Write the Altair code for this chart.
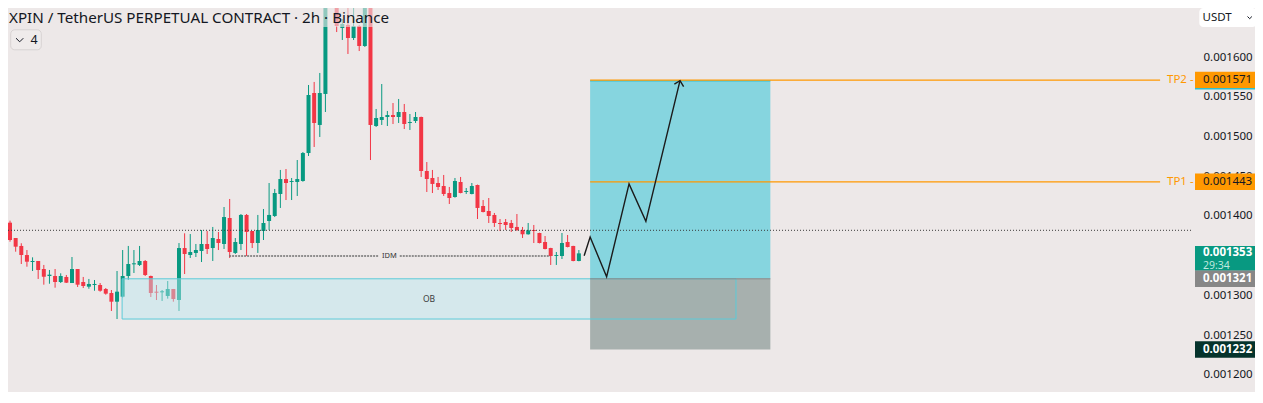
import altair as alt
import pandas as pd

# ---------------- data (prices, in 1e-6 USDT) ----------------
bars = list(range(1, 103))
opens = [1391.6, 1372.3, 1362.3, 1350.9, 1342.1, 1343.4, 1333.3, 1324.5, 1324.5, 1317.0,
         1323.3, 1315.7, 1333.3, 1317.0, 1311.1, 1313.2, 1313.2, 1308.2, 1303.1, 1292.2,
         1298.5, 1324.5, 1339.2, 1338.4, 1343.4, 1324.5, 1304.8, 1304.0, 1299.4, 1308.2,
         1294.3, 1359.7, 1350.9, 1353.5, 1356.0, 1364.8, 1359.7, 1371.1, 1364.8, 1397.5,
         1353.5, 1364.8, 1401.3, 1381.1, 1366.0, 1381.1, 1393.7, 1400.0, 1427.7, 1446.5,
         1442.8, 1442.8, 1444.0, 1479.2, 1554.7, 1514.5, 1553.5, 1676.7, 1676.7, 1636.5,
         1640.3, 1623.9, 1639.0, 1613.8, 1667.9, 1513.2, 1520.8, 1524.5, 1527.0, 1524.5,
         1530.8, 1517.0, 1519.5, 1524.5, 1456.6, 1447.8, 1441.5, 1437.7, 1428.9, 1423.9,
         1442.8, 1430.2, 1427.7, 1439.0, 1412.6, 1406.3, 1401.3, 1391.2, 1392.4, 1391.2,
         1386.2, 1382.4, 1377.0, 1382.4, 1378.6, 1367.3, 1359.7, 1349.7, 1349.7, 1367.3,
         1362.3, 1343.4]
highs = [1394.1, 1372.3, 1365.7, 1357.2, 1348.0, 1343.4, 1338.4, 1332.1, 1333.3, 1327.9,
         1325.8, 1348.4, 1333.3, 1323.3, 1320.8, 1319.5, 1315.7, 1309.4, 1306.9, 1330.8,
         1357.2, 1362.3, 1357.2, 1362.3, 1344.6, 1325.0, 1313.2, 1306.9, 1318.2, 1308.2,
         1366.0, 1378.2, 1377.3, 1364.8, 1382.4, 1381.1, 1386.2, 1379.9, 1411.3, 1421.4,
         1372.3, 1402.5, 1402.5, 1381.1, 1401.3, 1408.8, 1441.5, 1434.0, 1457.9, 1459.1,
         1447.8, 1470.4, 1480.5, 1564.8, 1568.6, 1579.9, 1681.8, 1694.3, 1684.3, 1647.8,
         1662.9, 1673.0, 1640.3, 1678.0, 1674.2, 1534.6, 1566.0, 1532.1, 1542.1, 1547.2,
         1540.9, 1528.3, 1530.8, 1525.0, 1467.9, 1457.9, 1449.1, 1451.6, 1436.5, 1447.8,
         1449.1, 1435.2, 1441.5, 1439.5, 1420.1, 1422.6, 1403.8, 1396.2, 1396.2, 1395.0,
         1402.5, 1386.2, 1391.2, 1388.7, 1379.0, 1374.8, 1360.0, 1354.7, 1378.6, 1376.1,
         1362.5, 1357.2]
lows = [1367.7, 1355.1, 1339.6, 1336.2, 1330.8, 1320.8, 1313.6, 1314.8, 1309.8, 1315.7,
        1315.7, 1315.7, 1310.7, 1309.4, 1308.5, 1306.0, 1304.8, 1301.0, 1280.5, 1270.4,
        1297.5, 1319.5, 1328.3, 1337.1, 1324.5, 1298.1, 1294.3, 1293.1, 1296.0, 1292.2,
        1280.5, 1327.0, 1347.2, 1348.4, 1342.1, 1352.2, 1343.4, 1357.2, 1358.5, 1347.2,
        1352.2, 1357.2, 1349.7, 1359.7, 1353.5, 1369.8, 1382.4, 1398.7, 1410.1, 1420.1,
        1420.1, 1425.2, 1443.1, 1475.5, 1486.8, 1499.4, 1530.8, 1667.5, 1631.4, 1621.4,
        1603.8, 1621.4, 1607.5, 1612.6, 1470.4, 1512.0, 1514.5, 1513.2, 1515.7, 1517.0,
        1509.4, 1508.2, 1517.0, 1449.1, 1430.2, 1428.9, 1432.7, 1425.2, 1415.1, 1423.0,
        1428.5, 1427.7, 1427.2, 1396.2, 1404.5, 1391.2, 1386.2, 1381.1, 1382.4, 1379.9,
        1381.1, 1372.3, 1376.5, 1366.0, 1365.5, 1358.0, 1338.4, 1338.4, 1345.9, 1360.5,
        1343.0, 1343.0]
closes = [1369.8, 1361.4, 1350.9, 1342.5, 1343.4, 1332.1, 1323.6, 1326.2, 1317.0, 1324.5,
          1316.1, 1333.3, 1313.6, 1311.9, 1314.5, 1314.5, 1306.0, 1302.3, 1292.2, 1304.8,
          1324.5, 1339.6, 1340.5, 1343.4, 1325.8, 1303.1, 1303.5, 1305.3, 1308.2, 1295.6,
          1359.7, 1352.2, 1354.7, 1357.2, 1364.8, 1358.5, 1372.3, 1366.0, 1398.7, 1354.7,
          1367.3, 1401.3, 1379.9, 1366.0, 1382.4, 1391.2, 1401.3, 1428.9, 1446.5, 1441.5,
          1444.0, 1446.5, 1479.2, 1552.2, 1517.0, 1554.7, 1674.2, 1686.8, 1639.0, 1641.5,
          1623.9, 1639.0, 1613.8, 1666.7, 1514.5, 1523.3, 1524.5, 1527.0, 1524.5, 1530.8,
          1515.7, 1518.2, 1524.5, 1456.6, 1446.5, 1440.3, 1436.5, 1427.7, 1422.6, 1444.0,
          1428.9, 1431.4, 1437.7, 1410.1, 1405.0, 1400.0, 1391.2, 1389.9, 1388.7, 1384.9,
          1382.4, 1377.0, 1382.0, 1381.1, 1366.0, 1358.5, 1349.7, 1350.9, 1366.0, 1361.0,
          1343.4, 1353.0]

# 0.001350 sits fully under the live-price badge in the reference, so it is not listed
tick_values = [0.0012, 0.00125, 0.0013, 0.0014, 0.00145, 0.0015, 0.00155, 0.0016]

entry_price = 0.001321
tp1_price = 0.001443
tp2_price = 0.001571
sl_price = 0.001232
last_price = 0.001353
dotted_price = 0.001382
idm_price = 0.0013497
ob_bars = [20.9, 129.9]
ob_prices = [0.0012704, 0.001321]
pos_bars = [104.0, 136.0]
tp_line_end = 205.2
idm_bars = [39.9, 66.5, 70.2, 96.9]  # line, gap for the label, line
path_bars = [102.94, 104.0, 106.93, 110.91, 113.90, 119.96]
path_prices = [0.0013501, 0.0013736, 0.0013236, 0.0014403, 0.0013933, 0.0015702]
head_bars = [118.96, 119.96, 120.60]
head_prices = [0.0015660, 0.0015702, 0.0015626]

badge_prices = [tp2_price, tp1_price, entry_price, sl_price]
badge_labels = ["0.001571", "0.001443", "0.001321", "0.001232"]
badge_fills = ["#ff9800", "#ff9800", "#878787", "#05332c"]
badge_text_colors = ["#131722", "#131722", "#ffffff", "#ffffff"]

title_text = "XPIN / TetherUS PERPETUAL CONTRACT · 2h · Binance"

# ---------------- styling ----------------
BG = "#ede8e8"
GREEN = "#089981"
RED = "#f23645"
ORANGE = "#ff9800"
FONT = "Noto Sans"
W, H = 1185, 384

U = 1e-6
df = pd.DataFrame({
    "bar": bars,
    "open": [v * U for v in opens],
    "high": [v * U for v in highs],
    "low": [v * U for v in lows],
    "close": [v * U for v in closes],
})
df["dir"] = ["up" if c >= o else "down" for o, c in zip(df["open"], df["close"])]

xs = alt.Scale(domain=[1.528, 210.155], nice=False, zero=False)
ys = alt.Scale(domain=[0.0011786, 0.00166164], nice=False, zero=False)

yaxis = alt.Axis(orient="right", values=tick_values, format=".6f", labelFont=FONT,
                 labelFontSize=11.5, labelColor="#131722", labelPadding=10, ticks=False,
                 tickSize=0, domain=False, grid=False, title=None, labelAlign="left",
                 labelBaseline="middle", labelOverlap=False, labelFlush=False)


def XQ(f):
    return alt.X(f"{f}:Q", scale=xs, axis=None)


def YQ(f):
    return alt.Y(f"{f}:Q", scale=ys, axis=yaxis, title=None)


col = alt.Color("dir:N", scale=alt.Scale(domain=["up", "down"], range=[GREEN, RED]), legend=None)

base = alt.Chart(df)
wicks = base.mark_rule(strokeWidth=1, clip=True).encode(
    x=XQ("bar"), y=YQ("low"), y2="high:Q", color=col)
bodies = base.mark_bar(size=4, clip=True).encode(
    x=XQ("bar"), y=YQ("open"), y2="close:Q", color=col)

ob_df = pd.DataFrame({"x0": [ob_bars[0]], "x1": [ob_bars[1]],
                      "y0": [ob_prices[0]], "y1": [ob_prices[1]],
                      "xm": [(ob_bars[0] + ob_bars[1]) / 2],
                      "ym": [(ob_prices[0] + ob_prices[1]) / 2]})
ob_fill = alt.Chart(ob_df).mark_rect(fill="#b8e9f2", opacity=0.45).encode(
    x=XQ("x0"), x2="x1:Q", y=YQ("y0"), y2="y1:Q")
ob_border = alt.Chart(ob_df).mark_rect(fillOpacity=0, stroke="#5ccbd9", strokeWidth=1).encode(
    x=XQ("x0"), x2="x1:Q", y=YQ("y0"), y2="y1:Q")
ob_label = alt.Chart(ob_df).mark_text(text="OB", font=FONT, fontSize=8.5, color="#3a3a3a").encode(
    x=XQ("xm"), y=YQ("ym"))

pos_df = pd.DataFrame({"x0": [pos_bars[0]], "x1": [pos_bars[1]],
                       "entry": [entry_price], "tp": [tp2_price], "sl": [sl_price]})
profit = alt.Chart(pos_df).mark_rect(fill="#86d5df").encode(
    x=XQ("x0"), x2="x1:Q", y=YQ("entry"), y2="tp:Q")
loss = alt.Chart(pos_df).mark_rect(fill="#9aa6a3", opacity=0.85).encode(
    x=XQ("x0"), x2="x1:Q", y=YQ("sl"), y2="entry:Q")
entry_line = alt.Chart(pos_df).mark_rule(color="#888888", strokeWidth=1).encode(
    x=XQ("x0"), x2="x1:Q", y=YQ("entry"))
top_line = alt.Chart(pos_df).mark_rule(color="#3cc3d3", strokeWidth=1, yOffset=1).encode(
    x=XQ("x0"), x2="x1:Q", y=YQ("tp"))

tp_df = pd.DataFrame({"x0": [pos_bars[0]] * 2, "x1": [tp_line_end] * 2,
                      "p": [tp2_price, tp1_price], "lab": ["TP2 -", "TP1 -"]})
tp_lines = alt.Chart(tp_df).mark_rule(color=ORANGE, strokeWidth=1.3).encode(
    x=XQ("x0"), x2="x1:Q", y=YQ("p"))
tp_labels = alt.Chart(tp_df).mark_text(align="left", baseline="middle", font=FONT,
                                       fontSize=11.5, color=ORANGE).encode(
    x=alt.value(1159), y=YQ("p"), text="lab:N")

dot_df = pd.DataFrame({"p": [dotted_price]})
dotted = alt.Chart(dot_df).mark_rule(color="#3a3a3a", strokeWidth=1, strokeDash=[1, 2]).encode(
    x=alt.value(0), x2=alt.value(W), y=YQ("p"))

idm_seg = pd.DataFrame({"x0": [idm_bars[0], idm_bars[2]], "x1": [idm_bars[1], idm_bars[3]],
                        "p": [idm_price, idm_price]})
idm_lab = pd.DataFrame({"xm": [(idm_bars[1] + idm_bars[2]) / 2], "p": [idm_price]})
idm_line = alt.Chart(idm_seg).mark_rule(color="#707070", strokeWidth=1.4, strokeDash=[2, 1]).encode(
    x=XQ("x0"), x2="x1:Q", y=YQ("p"))
idm_label = alt.Chart(idm_lab).mark_text(text="IDM", font=FONT, fontSize=7.5, color="#333333",
                                         baseline="middle").encode(x=XQ("xm"), y=YQ("p"))

path_df = pd.DataFrame({"b": path_bars, "p": path_prices, "i": list(range(len(path_bars)))})
path = alt.Chart(path_df).mark_line(color="#1b1b1b", strokeWidth=1.4).encode(
    x=XQ("b"), y=YQ("p"), order="i:Q")
head_df = pd.DataFrame({"b": head_bars, "p": head_prices, "i": list(range(len(head_bars)))})
head = alt.Chart(head_df).mark_line(color="#1b1b1b", strokeWidth=1.4).encode(
    x=XQ("b"), y=YQ("p"), order="i:Q")

one = pd.DataFrame({"k": [0]})

title_bg = alt.Chart(one).mark_rect(fill=BG, opacity=0.6).encode(
    x=alt.value(0), x2=alt.value(386), y=alt.value(0), y2=alt.value(19))
title = alt.Chart(one).mark_text(text=title_text, align="left", baseline="alphabetic",
                                 font=FONT, fontSize=15.2, color="#131722").encode(
    x=alt.value(1), y=alt.value(14.5))

chip = alt.Chart(one).mark_rect(fill="#efebeb", stroke="#d8d3d3", strokeWidth=1,
                                cornerRadius=4).encode(
    x=alt.value(2.7), x2=alt.value(33.3), y=alt.value(21.8), y2=alt.value(41.8))
chev1 = alt.Chart(one).mark_rule(color="#131722", strokeWidth=1).encode(
    x=alt.value(8), x2=alt.value(11.7), y=alt.value(30.2), y2=alt.value(33.8))
chev2 = alt.Chart(one).mark_rule(color="#131722", strokeWidth=1).encode(
    x=alt.value(11.7), x2=alt.value(15.3), y=alt.value(33.8), y2=alt.value(30.2))
chip_text = alt.Chart(one).mark_text(text="4", align="left", baseline="middle", font=FONT,
                                     fontSize=12.5, color="#131722").encode(
    x=alt.value(22.5), y=alt.value(32))

usdt_box = alt.Chart(one).mark_rect(fill="#ffffff", cornerRadius=4).encode(
    x=alt.value(1191.3), x2=alt.value(1248.7), y=alt.value(0), y2=alt.value(19))
usdt_text = alt.Chart(one).mark_text(text="USDT", align="left", baseline="middle", font=FONT,
                                     fontSize=11.5, color="#131722").encode(
    x=alt.value(1194.5), y=alt.value(9.5))
uchev1 = alt.Chart(one).mark_rule(color="#131722", strokeWidth=1).encode(
    x=alt.value(1239.5), x2=alt.value(1241.7), y=alt.value(8.5), y2=alt.value(10.7))
uchev2 = alt.Chart(one).mark_rule(color="#131722", strokeWidth=1).encode(
    x=alt.value(1241.7), x2=alt.value(1243.9), y=alt.value(10.7), y2=alt.value(8.5))

badge_df = pd.DataFrame({"p": badge_prices, "lab": badge_labels, "fill": badge_fills,
                         "tc": badge_text_colors})
badges = alt.Chart(badge_df).mark_rule(strokeWidth=16.6, strokeCap="butt").encode(
    x=alt.value(1187), x2=alt.value(1248), y=YQ("p"),
    color=alt.Color("fill:N", scale=None))
badge_text_dark = alt.Chart(badge_df.iloc[:2]).mark_text(
    align="left", baseline="middle", font=FONT, fontSize=11.5).encode(
    x=alt.value(1195), y=YQ("p"), text="lab:N", color=alt.Color("tc:N", scale=None))
badge_text_light = alt.Chart(badge_df.iloc[2:]).mark_text(
    align="left", baseline="middle", font=FONT, fontSize=11.5, fontWeight="bold").encode(
    x=alt.value(1195), y=YQ("p"), text="lab:N", color=alt.Color("tc:N", scale=None))

last_df = pd.DataFrame({"p": [last_price], "lab": ["0.001353"], "cd": ["29:34"]})
last_badge = alt.Chart(last_df).mark_rule(strokeWidth=24.7, strokeCap="butt", color=GREEN,
                                          yOffset=4.95).encode(
    x=alt.value(1187), x2=alt.value(1248), y=YQ("p"))
last_text = alt.Chart(last_df).mark_text(align="left", baseline="middle", font=FONT,
                                         fontSize=11.5, fontWeight="bold", color="#ffffff").encode(
    x=alt.value(1195), y=YQ("p"), text="lab:N")
last_cd = alt.Chart(last_df).mark_text(align="left", baseline="middle", font=FONT,
                                       fontSize=10.5, color="#bfe8df", yOffset=12.2).encode(
    x=alt.value(1195), y=YQ("p"), text="cd:N")
tp2_under = alt.Chart(pd.DataFrame({"p": [tp2_price]})).mark_rule(
    color="#2fbfd0", strokeWidth=1.5, yOffset=8.6).encode(
    x=alt.value(1187), x2=alt.value(1248), y=YQ("p"))

chart = alt.layer(
    wicks, bodies, ob_fill, profit, loss, ob_border, entry_line, top_line, tp_lines,
    dotted, idm_line, idm_label, ob_label, path, head, tp_labels,
    title_bg, title, chip, chev1, chev2, chip_text,
    last_badge, badges, tp2_under, badge_text_dark, badge_text_light, last_text, last_cd,
    usdt_box, usdt_text, uchev1, uchev2,
).properties(
    width=W, height=H, background=BG,
    padding={"left": 0, "top": 0, "right": 62, "bottom": 0},
    autosize=alt.AutoSizeParams(type="none"),
).configure_view(stroke=None)

chart.save("out.html", embed_options={"renderer": "svg", "actions": False})
